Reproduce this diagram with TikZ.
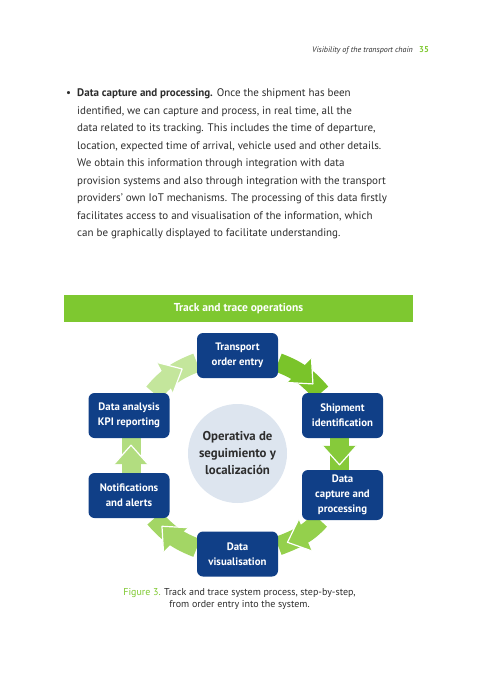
\documentclass[tikz,border=0pt]{standalone}
\usepackage{fontspec}
\setmainfont{PT Sans}
\usetikzlibrary{positioning,calc,backgrounds,decorations.markings}

\definecolor{barGreen}{RGB}{126,200,48}
\definecolor{boxBlue}{RGB}{16,63,135}
\definecolor{hubBlue}{RGB}{221,229,239}
\definecolor{bodyGray}{RGB}{45,45,45}
\definecolor{ringA}{RGB}{122,196,42}
\definecolor{ringB}{RGB}{134,202,58}
\definecolor{ringC}{RGB}{148,208,76}
\definecolor{ringD}{RGB}{163,214,101}
\definecolor{ringE}{RGB}{178,221,128}
\definecolor{ringF}{RGB}{196,230,156}

\begin{document}
\begin{tikzpicture}
	[   x=1pt,y=-1pt,
	    bnode/.style={fill=boxBlue,rounded corners=6pt,minimum width=81pt,minimum height=45pt,align=center,text=white,font=\fontsize{10.8}{15}\selectfont\bfseries},
	]
	\tikzset{ring/.style 2 args={draw=#1,line width=19pt,postaction={decorate},
		decoration={markings,mark=at position #2 with {\fill[#1] (-19pt,-17pt) -- (0pt,0pt) -- (-19pt,17pt) -- cycle;
			\draw[white,line width=1.2pt,line join=round] (-19pt,-17pt) -- (0pt,0pt) -- (-19pt,17pt);}}}}
	\useasboundingbox (0,0) rectangle (480,679);
	
	% page head and text
	\node[anchor=base east,font=\fontsize{8}{10}\selectfont\itshape,text=bodyGray,inner sep=0pt] (head) at (413,53) {Visibility of the transport chain};
	\node[anchor=base west,font=\fontsize{8.5}{10}\selectfont\bfseries,text=barGreen,inner sep=0pt] (pg) at (419,53) {35};
	\node[anchor=north west,align=left,inner sep=0pt,text=bodyGray,font=\fontsize{11}{17.5}\selectfont] (txt) at (77,88.5)
	{\llap{\textbullet\hspace{6pt}}\textbf{Data capture and processing.} Once the shipment has been\\
	 identified, we can capture and process, in real time, all the\\
	 data related to its tracking. This includes the time of departure,\\
	 location, expected time of arrival, vehicle used and other details.\\
	 We obtain this information through integration with data\\
	 provision systems and also through integration with the transport\\
	 providers’ own IoT mechanisms. The processing of this data firstly\\
	 facilitates access to and visualisation of the information, which\\
	 can be graphically displayed to facilitate understanding.};
	
	\node[fill=barGreen,minimum width=349pt,minimum height=27pt,text=white,font=\fontsize{11.5}{14}\selectfont\bfseries] (bar) at (238.5,308.5) {Track and trace operations};
	
	% the cycle
	\node[bnode] (tr) at (237.5,355.5) {Transport\\order entry};
	\node[bnode] (sh) at (342.5,415.5) {Shipment\\identification};
	\node[bnode,minimum height=50pt] (dc) at (342.5,495) {Data\\capture and\\processing};
	\node[bnode] (dv) at (237.5,554) {Data\\visualisation};
	\node[bnode] (nt) at (129,495.5) {Notifications\\and alerts};
	\node[bnode] (da) at (129,415.5) {Data analysis\\KPI reporting};
	\node[circle,fill=hubBlue,minimum size=99pt,align=center,text=bodyGray,font=\fontsize{12.8}{17}\selectfont\bfseries] (hub) at (237.5,453.5) {Operativa de\\seguimiento y\\localización};
	
	\begin{scope}[on background layer]
	\path[ring={ringA}{-12pt}] ([yshift=-7pt]tr.east) to[out=-21,in=130] ([xshift=-21.5pt]sh.north);
	\path[ring={ringB}{-5pt}] ([xshift=-3pt]sh.south) -- ([xshift=-3pt]dc.north);
	\path[ring={ringC}{-10pt}] ([xshift=-22.5pt]dc.south) to[out=-132,in=21] ([yshift=8pt]dv.east);
	\path[ring={ringD}{-11pt}] ([yshift=6pt]dv.west) to[out=159,in=-49] ([xshift=25.5pt]nt.south);
	\path[ring={ringE}{-7pt}] ([xshift=2pt]nt.north) -- ([xshift=2pt]da.south);
	\path[ring={ringF}{-16pt}] ([xshift=24.5pt]da.north) to[out=50,in=201] ([yshift=-7pt]tr.west);
	\end{scope}
	
	\node[align=center,text=bodyGray,font=\fontsize{10}{12.5}\selectfont] (cap) at (239.5,599)
	{\textcolor{barGreen}{Figure 3.} Track and trace system process, step-by-step,\\ from order entry into the system.};
\end{tikzpicture}
\end{document}
